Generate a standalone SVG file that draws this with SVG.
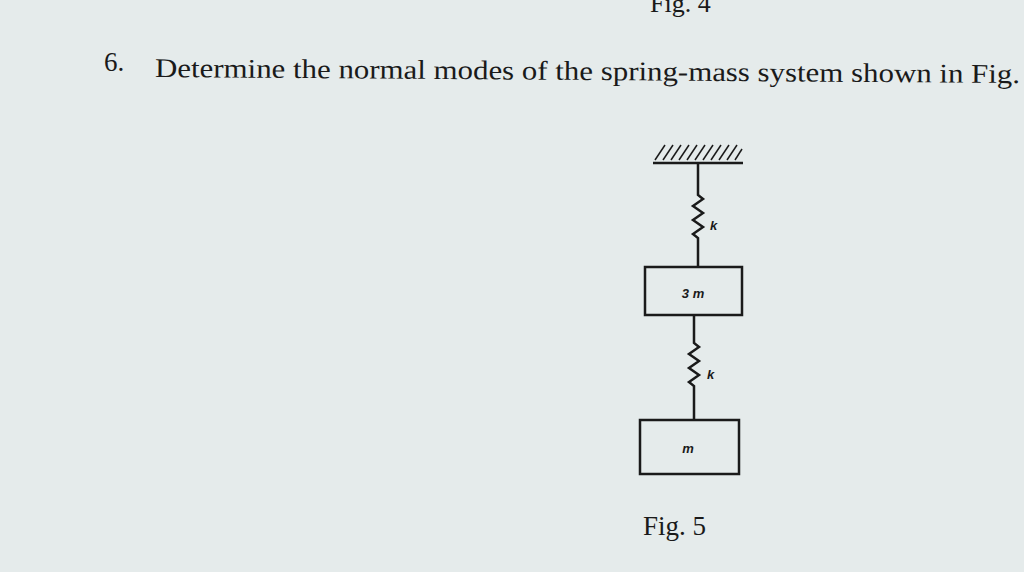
<svg xmlns="http://www.w3.org/2000/svg" width="1024" height="572" viewBox="0 0 1024 572">
<style>
.t{font-family:"Liberation Serif",serif;fill:#1a1a1a}
.l{stroke:#1a1a1a;stroke-width:2.5;fill:none}
.h{stroke:#1a1a1a;stroke-width:1.5}
.s{font-family:"Liberation Sans",sans-serif;font-style:italic;font-weight:bold;fill:#1a1a1a;font-size:13px}
</style>
<rect width="1024" height="572" fill="#e5ebeb"/>
<text class="t" x="650" y="12" font-size="26">Fig. 4</text>
<text class="t" x="104" y="71" font-size="27">6.</text>
<text class="t" x="155" y="77" font-size="27" textLength="865" lengthAdjust="spacingAndGlyphs" transform="rotate(0.4 155 77)">Determine the normal modes of the spring-mass system shown in Fig.</text>
<g id="support">
<line class="l" x1="653" y1="163" x2="743" y2="163"/>
<g class="h">
<line x1="655" y1="160" x2="665" y2="145"/><line x1="663" y1="160" x2="673" y2="145"/><line x1="671" y1="160" x2="681" y2="145"/><line x1="679" y1="160" x2="689" y2="145"/><line x1="687" y1="160" x2="697" y2="145"/><line x1="695" y1="160" x2="705" y2="145"/><line x1="703" y1="160" x2="713" y2="145"/><line x1="711" y1="160" x2="721" y2="145"/><line x1="719" y1="160" x2="729" y2="145"/><line x1="727" y1="160" x2="737" y2="145"/><line x1="735" y1="160" x2="742" y2="149"/>
</g>
</g>
<g id="connectors">
<polyline class="l" points="698,163 698,195 703,199 693,206 703,213 693,220 703,227 693,234 698,238 698,267"/>
<polyline class="l" points="694,315 694,343 699,347 689,354 699,361 689,368 699,375 689,382 694,386 694,420"/>
<text class="s" x="710" y="230">k</text>
<text class="s" x="707" y="379">k</text>
</g>
<g id="mass3m">
<rect class="l" x="645" y="267" width="97" height="48"/>
<text class="s" x="693" y="298" text-anchor="middle">3 m</text>
</g>
<g id="massm">
<rect class="l" x="640" y="420" width="99" height="54"/>
<text class="s" x="688" y="453" text-anchor="middle">m</text>
</g>
<text class="t" x="643" y="535" font-size="27">Fig. 5</text>
</svg>
